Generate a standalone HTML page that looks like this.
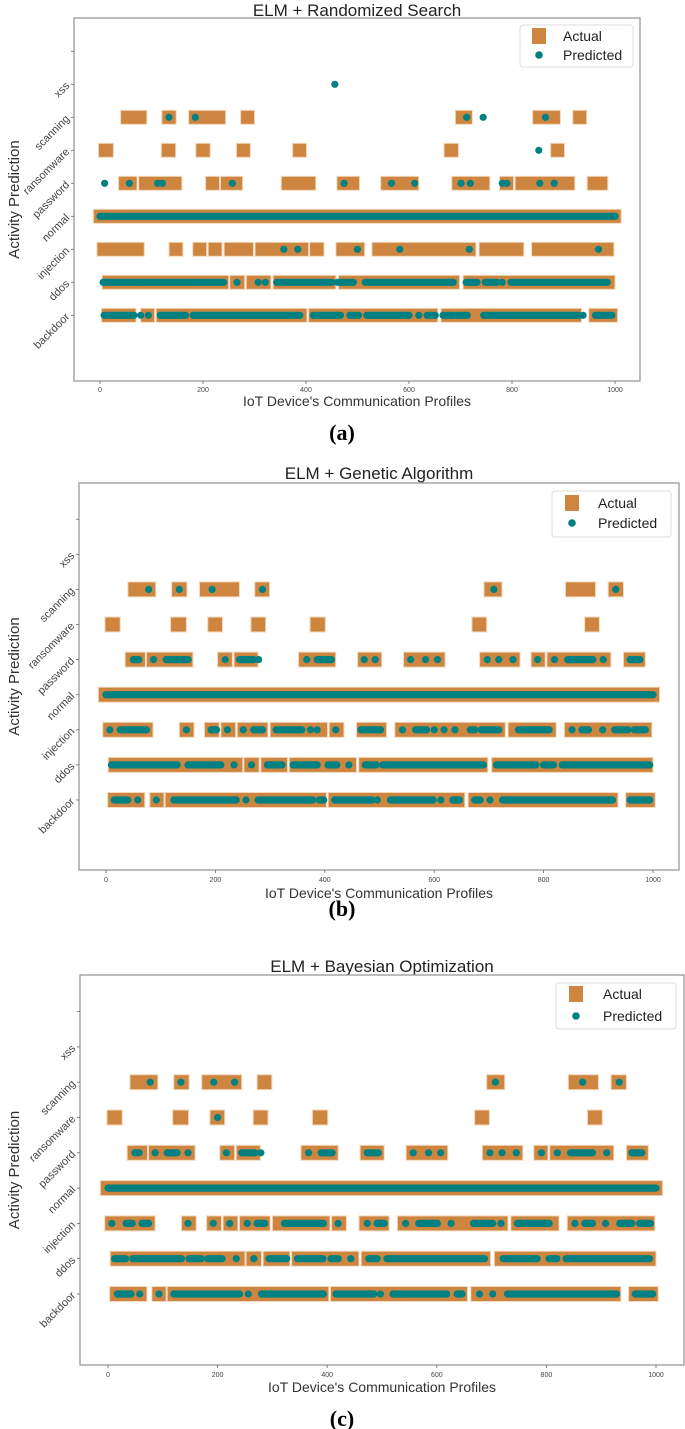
<!DOCTYPE html>
<html><head><meta charset="utf-8"><style>
html,body{margin:0;padding:0;background:#fff;}
svg{display:block;font-family:"Liberation Sans","DejaVu Sans",sans-serif;}
</style></head><body>
<svg id="chart" width="685" height="1429" viewBox="0 0 685 1429" xmlns="http://www.w3.org/2000/svg"></svg>
<script>
const categories = ["backdoor","ddos","injection","normal","password","ransomware","scanning","xss"];
const xTickLabels = ["0","200","400","600","800","1000"];
const xTickValues = [0,200,400,600,800,1000];
const panelTitles = ["ELM + Randomized Search","ELM + Genetic Algorithm","ELM + Bayesian Optimization"];
const panelCaptions = ["(a)","(b)","(c)"];

// Panel (a) data: [class, start, end] / [class, x]
const aActual = [
[6,40,91],[6,120,148],[6,172,244],[6,273,300],[6,690,723],[6,840,894],[6,918,945],
[5,-3,26],[5,119,147],[5,186,214],[5,265,292],[5,374,401],[5,668,696],[5,875,902],
[4,36,72],[4,75,159],[4,205,232],[4,234,277],[4,352,419],[4,460,504],[4,545,619],[4,683,757],[4,776,803],[4,806,922],[4,946,986],
[3,-13,1012],
[2,-6,86],[2,134,161],[2,180,207],[2,210,237],[2,241,298],[2,301,405],[2,407,435],[2,458,514],[2,528,730],[2,736,823],[2,838,998],
[1,4,250],[1,252,281],[1,284,332],[1,336,458],[1,463,698],[1,705,1000],
[0,3,70],[0,79,106],[0,109,402],[0,405,656],[0,662,935],[0,949,1005]];
const aPredDots = [
[7,456],[6,134],[6,185],[6,712],[6,744],[6,865],[5,852],
[4,9],[4,57],[4,112],[4,121],[4,257],[4,474],[4,566],[4,611],[4,701],[4,719],[4,781],[4,790],[4,854],[4,882],
[2,357],[2,384],[2,500],[2,582],[2,717],[2,968],
[1,266],[1,307],[1,321],[1,781],
[0,79],[0,94],[0,619],[0,938]];
const aPredRuns = [
[3,0,1000],
[1,6,80],[1,82,185],[1,190,240],[1,343,450],[1,461,492],[1,515,686],[1,711,732],[1,748,771],[1,798,985],
[0,8,66],[0,117,166],[0,181,388],[0,414,467],[0,485,502],[0,518,600],[0,635,651],[0,666,687],[0,694,713],[0,745,930],[0,962,994]];

// Panel (b)
const bActual = [
[6,40,91],[6,120,148],[6,171,244],[6,272,299],[6,691,724],[6,840,895],[6,918,946],
[5,-2,26],[5,118,147],[5,186,213],[5,265,292],[5,373,401],[5,669,696],[5,875,902],
[4,35,72],[4,74,159],[4,204,231],[4,234,278],[4,352,420],[4,460,504],[4,544,620],[4,683,757],[4,777,803],[4,806,923],[4,946,986],
[3,-14,1012],
[2,-6,86],[2,134,161],[2,180,207],[2,210,237],[2,240,296],[2,300,405],[2,408,435],[2,458,513],[2,528,730],[2,735,823],[2,838,998],
[1,4,250],[1,252,280],[1,283,332],[1,335,458],[1,462,698],[1,705,1000],
[0,3,71],[0,80,106],[0,108,403],[0,406,656],[0,662,936],[0,950,1004]];
const bPredDots = [
[6,78],[6,134],[6,194],[6,286],[6,709],[6,932],
[4,87],[4,218],[4,279],[4,367],[4,472],[4,492],[4,557],[4,584],[4,606],[4,697],[4,718],[4,744],[4,789],[4,820],[4,909],
[2,7],[2,147],[2,222],[2,251],[2,374],[2,386],[2,420],[2,542],[2,600],[2,618],[2,638],[2,852],[2,908],
[1,234],[1,266],[1,444],
[0,58],[0,92],[0,256],[0,496],[0,612],[0,702]];
const bPredRuns = [
[3,0,1000],
[4,50,60],[4,110,150],[4,244,270],[4,386,412],[4,844,890],[4,958,976],
[2,26,74],[2,192,202],[2,270,286],[2,311,358],[2,466,502],[2,566,586],[2,666,674],[2,686,718],[2,754,810],[2,870,882],[2,930,954],[2,966,986],
[1,10,130],[1,150,210],[1,295,322],[1,342,386],[1,406,422],[1,474,494],[1,506,690],[1,714,786],[1,800,818],[1,834,994],
[0,15,40],[0,124,238],[0,278,378],[0,390,398],[0,418,486],[0,520,598],[0,634,646],[0,674,684],[0,725,926],[0,958,994]];

// Panel (c)
const cActual = [
[6,40,91],[6,120,148],[6,171,244],[6,272,299],[6,691,724],[6,840,895],[6,918,946],
[5,-2,26],[5,118,147],[5,186,213],[5,265,292],[5,373,401],[5,669,696],[5,875,902],
[4,35,72],[4,74,159],[4,204,231],[4,234,278],[4,352,420],[4,460,504],[4,544,620],[4,683,757],[4,777,803],[4,806,923],[4,946,986],
[3,-14,1012],
[2,-6,86],[2,134,161],[2,180,207],[2,210,237],[2,240,296],[2,300,405],[2,408,435],[2,458,513],[2,528,730],[2,735,823],[2,838,998],
[1,4,250],[1,252,280],[1,283,332],[1,335,458],[1,462,698],[1,705,1000],
[0,3,71],[0,80,106],[0,108,403],[0,406,656],[0,662,936],[0,950,1004]];
const cPredDots = [
[6,77],[6,133],[6,193],[6,231],[6,707],[6,866],[6,933],[5,200],
[4,86],[4,146],[4,216],[4,279],[4,366],[4,557],[4,585],[4,607],[4,697],[4,719],[4,745],[4,791],[4,820],[4,910],
[2,7],[2,146],[2,192],[2,222],[2,254],[2,420],[2,473],[2,543],[2,626],[2,717],[2,852],[2,908],
[1,234],[1,266],[1,443],
[0,58],[0,93],[0,256],[0,497],[0,678],[0,702]];
const cPredRuns = [
[3,0,1000],
[4,49,57],[4,108,126],[4,244,268],[4,389,409],[4,473,493],[4,844,884],[4,956,974],
[2,33,44],[2,62,74],[2,272,286],[2,322,393],[2,491,504],[2,567,601],[2,667,702],[2,747,805],[2,870,884],[2,934,956],[2,970,990],
[1,12,32],[1,45,134],[1,148,170],[1,182,208],[1,294,326],[1,346,392],[1,407,420],[1,476,491],[1,509,687],[1,721,783],[1,805,819],[1,836,988],
[0,17,42],[0,120,240],[0,280,393],[0,416,485],[0,520,618],[0,637,646],[0,729,928],[0,962,994]];

const NS = "http://www.w3.org/2000/svg";
const svg = document.getElementById("chart");
function mk(tag, attrs, parent){const e=document.createElementNS(NS,tag);for(const k in attrs)e.setAttribute(k,attrs[k]);(parent||svg).appendChild(e);return e;}

const panels = [
 {L:74,R:640,T:18,B:381,x0:100,x1:615,y0:315.3,dy:-33,titleY:16,tickY:392,xlabY:406,capY:440,barH:14,ylabX:20,
  leg:{x:520,y:25,w:113,h:42,sq:539,tx:563,r1:36,r2:55}, actual:aActual, dots:aPredDots, runs:aPredRuns},
 {L:79,R:679,T:483,B:870,x0:106,x1:653,y0:800,dy:-35.1,titleY:479,tickY:882,xlabY:898,capY:916,barH:15,ylabX:20,
  leg:{x:552,y:491,w:119,h:46,sq:572,tx:598,r1:503,r2:523}, actual:bActual, dots:bPredDots, runs:bPredRuns},
 {L:80,R:684,T:975,B:1365,x0:108,x1:656,y0:1294,dy:-35.3,titleY:972,tickY:1377,xlabY:1392,capY:1426,barH:15,ylabX:20,
  leg:{x:556,y:983,w:120,h:46,sq:576,tx:603,r1:994,r2:1016}, actual:cActual, dots:cPredDots, runs:cPredRuns}
];

panels.forEach((p,pi)=>{
  const g = mk("g",{});
  
  
  const xs = v => p.x0 + v*(p.x1-p.x0)/1000;
  const ys = c => p.y0 + c*p.dy;
  const title = mk("text",{x:(p.L+p.R)/2,y:p.titleY,"text-anchor":"middle","font-size":17,fill:"#222"},g);
  title.textContent = panelTitles[pi];
  
  
  const frame = mk("rect",{x:p.L,y:p.T,width:p.R-p.L,height:p.B-p.T,fill:"#fff",stroke:"#999","stroke-width":1.3},g);
  
  
  for(let c=0;c<=8;c++){
    const y=ys(c);
    mk("line",{x1:p.L-3,x2:p.L,y1:y,y2:y,stroke:"#666","stroke-width":0.8},g);
    if(c<8){
      const t=mk("text",{x:p.L-6,y:y+3,"text-anchor":"end","font-size":11,fill:"#444",transform:`rotate(-45 ${p.L-6} ${y})`},g);
      t.textContent=categories[c];
      
      
    }
  }
  xTickValues.forEach((v,i)=>{
    const x=xs(v);
    mk("line",{x1:x,x2:x,y1:p.B,y2:p.B+3,stroke:"#666","stroke-width":0.8},g);
    const t=mk("text",{x:x,y:p.tickY,"text-anchor":"middle","font-size":7,fill:"#444"},g);
    t.textContent=xTickLabels[i];
    
    
  });
  const xl=mk("text",{x:(p.L+p.R)/2,y:p.xlabY,"text-anchor":"middle","font-size":14,fill:"#333"},g);
  xl.textContent="IoT Device's Communication Profiles";
  
  
  const yc=(p.T+p.B)/2;
  const yl=mk("text",{x:p.ylabX-6,y:yc,"text-anchor":"middle","font-size":15,fill:"#333",transform:`rotate(-90 ${p.ylabX-6} ${yc})`,dy:5},g);
  yl.textContent="Activity Prediction";
  
  
  const cap=mk("text",{x:342,y:p.capY,"text-anchor":"middle","font-size":22,"font-weight":"bold","font-family":"Liberation Serif, serif",fill:"#000"},g);
  cap.textContent=panelCaptions[pi];
  
  
  p.actual.forEach(a=>{
    const x1=xs(a[1]), x2=xs(a[2]), y=ys(a[0]);
    const r=mk("rect",{x:x1,y:y-p.barH/2,width:x2-x1,height:p.barH,fill:"#cd853f",stroke:"#f3d9bd","stroke-width":1},g);
    
    
  });
  p.runs.forEach(a=>{
    const x1=xs(a[1])-3.6, x2=xs(a[2])+3.6, y=ys(a[0]);
    const r=mk("rect",{x:x1,y:y-3.6,width:x2-x1,height:7.2,rx:3.6,fill:"#008080"},g);
    
    
  });
  p.dots.forEach(a=>{
    const c=mk("circle",{cx:xs(a[1]),cy:ys(a[0]),r:3.6,fill:"#008080"},g);
    
    
  });
  const lg=p.leg;
  const lb=mk("rect",{x:lg.x,y:lg.y,width:lg.w,height:lg.h,rx:3,fill:"#fff",stroke:"#ddd","stroke-width":1},g);
  
  
  const sq=mk("rect",{x:lg.sq-7,y:lg.r1-8,width:14,height:16,fill:"#cd853f"},g);
  
  
  const t1=mk("text",{x:lg.tx,y:lg.r1+5,"font-size":14,fill:"#222"},g);
  t1.textContent="Actual";
  
  
  const cd=mk("circle",{cx:lg.sq,cy:lg.r2,r:3.8,fill:"#008080"},g);
  
  
  const t2=mk("text",{x:lg.tx,y:lg.r2+5,"font-size":14,fill:"#222"},g);
  t2.textContent="Predicted";
  
  
});
</script>
</body></html>
